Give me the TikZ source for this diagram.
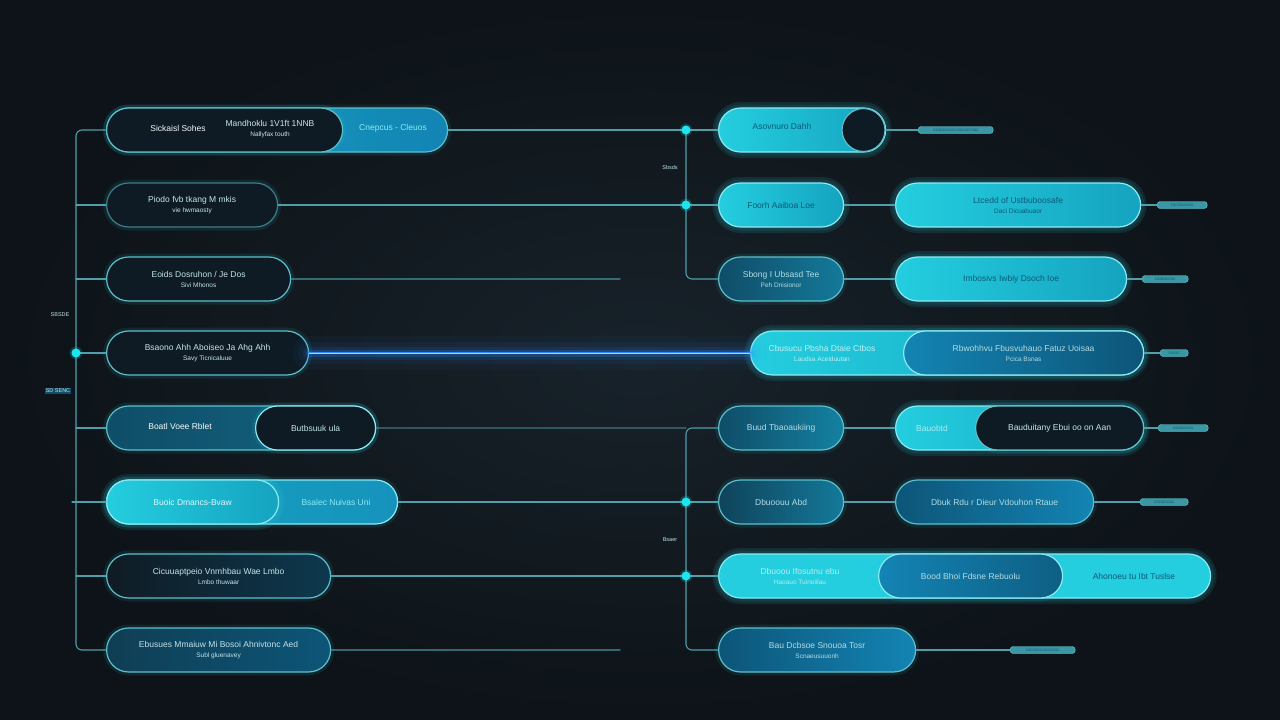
\documentclass[tikz,border=0pt]{standalone}
\usepackage{fontspec}
\setmainfont{Liberation Sans}
\usetikzlibrary{positioning}
\definecolor{bgdark}{HTML}{0D1318}
\definecolor{bgmid}{HTML}{18222A}
\definecolor{wire}{HTML}{4E9FA9}
\definecolor{rim}{HTML}{5CBFCB}
\definecolor{rimlight}{HTML}{8CEBF2}
\definecolor{cyanA}{HTML}{24CEDF}
\definecolor{cyanB}{HTML}{15A3C0}
\definecolor{blueA}{HTML}{1384B4}
\definecolor{blueB}{HTML}{0D5578}
\definecolor{tealA}{HTML}{0F4D68}
\definecolor{tealB}{HTML}{14799A}
\definecolor{navy}{HTML}{0F1B24}
\definecolor{inkL}{HTML}{B3DCE3}
\definecolor{inkD}{HTML}{0C5A78}
\definecolor{beam}{HTML}{2E8CFF}
\definecolor{dotc}{HTML}{1EE4EE}
\definecolor{tagc}{HTML}{3A98A4}
\newcommand\subl[1]{{\fontsize{6.5}{7.5}\selectfont #1}}
\begin{document}
\begin{tikzpicture}[x=1pt, y=-1pt, line join=round, line cap=round,
	font=\fontsize{8.5}{10}\selectfont,
	pill/.style={draw=rim, line width=1.2pt, rounded corners=22pt, minimum height=44pt,
		anchor=west, inner sep=0pt, align=center, text=inkL,
		preaction={draw=cyanA, line width=7pt, draw opacity=.10}},
	darkpill/.style={pill, fill=navy},
	cyanpill/.style={pill, draw=rimlight, left color=cyanA, right color=cyanB, text=inkD,
		preaction={draw=cyanA, line width=12pt, draw opacity=.12}},
	bluepill/.style={pill, left color=blueB, right color=blueA},
	tealpill/.style={pill, left color=tealA, right color=tealB},
	txt/.style={inner sep=0pt, align=center, text=inkL},
	link/.style={draw=wire, line width=1.1pt},
	dot/.style={circle, fill=dotc, inner sep=0pt, minimum size=9pt,
		preaction={fill=dotc, fill opacity=.25, draw=dotc, draw opacity=.2, line width=4pt}},
	tag/.style={draw=rimlight!70!tagc, fill=tagc, rounded corners=3pt, minimum height=7pt,
		inner sep=0pt, anchor=west, font=\fontsize{4.5}{5}\selectfont, text=inkD},
	tiny/.style={inner sep=1pt, font=\fontsize{5.5}{6}\selectfont, text=inkL!80}]
	% background
	\shade[inner color=bgmid, outer color=bgdark] (0,0) rectangle (1280,720);
	\useasboundingbox (0,0) rectangle (1280,720);

	% ---------- left column ----------
	\node[pill, left color=cyanB, right color=blueA, minimum width=341pt] (l1) at (106,130) {};
	\node[darkpill, minimum width=236pt] (l1a) at (106,130) {};
	\node[txt, text=white!90!inkL] (l1t) at (178,128) {Sickaisl Sohes};
	\node[txt, text=inkL!70] (l1s) at (270,129) {Mandhoklu 1V1ft 1NNB\\\subl{Nallyfax touth}};
	\node[txt, text=rimlight] (l1r) at (393,128) {Cnepcus - Cleuos};

	\node[darkpill, draw=rim!60!navy, minimum width=171pt, text=inkL!75] (l2) at (106,205)
		{Piodo fvb tkang M mkis\\\subl{vie hwmaosty}};
	\node[darkpill, minimum width=184pt, text=inkL!80] (l3) at (106,279)
		{Eoids Dosruhon / Je Dos\\\subl{Sivi Mhonos}};
	\node[darkpill, minimum width=202pt, text=inkL!75] (l4) at (106,353)
		{Bsaono Ahh Aboiseo Ja Ahg Ahh\\\subl{Savy Ticnicaluue}};

	\node[pill, left color=tealA, right color=tealB!80!navy, minimum width=269pt] (l5) at (106,428) {};
	\node[txt, text=white!90!inkL] (l5t) at (180,426) {Boatl Voee Rblet};
	\node[darkpill, draw=rimlight, minimum width=120pt, text=inkL!80] (l5a) at (255,428) {Butbsuuk ula};

	\node[pill, draw=rimlight, left color=cyanB, right color=blueA!80!cyanA, minimum width=291pt] (l6) at (106,502) {};
	\node[cyanpill, minimum width=172pt, text=white!85!cyanA] (l6a) at (106,502) {Buoic Dmancs-Bvaw};
	\node[txt, text=rimlight] (l6t) at (336,502) {Bsalec Nuivas Uni};

	\node[pill, left color=navy, right color=blueB!50!navy, minimum width=224pt, text=inkL!75] (l7) at (106,576)
		{Cicuuaptpeio Vnmhbau Wae Lmbo\\\subl{Lmbo thuwaar}};
	\node[pill, left color=tealA!70!navy, right color=blueB, minimum width=224pt, text=inkL!80] (l8) at (106,650)
		{Ebusues Mmaiuw Mi Bosoi Ahnivtonc Aed\\\subl{Subl gluenavey}};

	% left trunk
	\path (76,353) coordinate (lj4) (76,502) coordinate (lj6);
	\draw[link, rounded corners=6pt] (l1.west) -| (76,650) -- (l8.west);
	\foreach \n/\y in {l2/205, l3/279, l4/353, l5/428, l6/502, l7/576}
		\draw[link] (76,\y) -- (\n.west);
	\node[dot] (d4) at (lj4) {};
	\draw[link] ([xshift=-4pt]lj6) -- ([xshift=4pt]lj6);
	\node[tiny] (lab1) at (60,315) {SBSDE};
	\node[tiny, fill=tealA] (lab2) at (58,391) {SD SENC};

	% ---------- right column ----------
	\node[cyanpill, minimum width=167pt] (r1) at (718,130) {};
	\node[txt, text=inkD] (r1t) at (782,126) {Asovnuro Dahh};
	\node[circle, draw=rim, line width=1.2pt, fill=navy, minimum size=43pt, inner sep=0pt] (r1c) at (863.5,130) {};

	\node[cyanpill, minimum width=125pt] (r2) at (718,205) {Foorh Aaiboa Loe};
	\node[cyanpill, minimum width=245pt, text=inkD] (r2b) at (895,205) {Ltcedd of Ustbuboosafe\\\subl{Daci Dicuabuaor}};

	\node[tealpill, minimum width=125pt] (r3) at (718,279) {Sbong I Ubsasd Tee\\\subl{Peh Dnisionor}};
	\node[cyanpill, minimum width=231pt] (r3b) at (895,279) {Imbosivs Iwbiy Dsoch Ioe};

	\node[cyanpill, minimum width=393pt] (r4) at (750,353) {};
	\node[txt, text=white!70!cyanA] (r4t) at (822,353) {Cbusucu Pbsha Dtaie Ctbos\\\subl{Laudsa Aceiduutan}};
	\node[bluepill, draw=rimlight, minimum width=240pt, left color=blueA, right color=blueB] (r4a) at (903,353)
		{Rbwohhvu Fbusvuhauo Fatuz Uoisaa\\\subl{Pcica Bsnas}};

	\node[tealpill, minimum width=125pt, right color=tealB!80!cyanB] (r5) at (718,428) {Buud Tbaoaukiing};
	\node[cyanpill, minimum width=248pt] (r5b) at (895,428) {};
	\node[txt, text=white!60!cyanA] (r5t) at (932,428) {Bauobtd};
	\node[darkpill, minimum width=168pt, text=inkL!75] (r5a) at (975,428) {Bauduitany Ebui oo on Aan};

	\node[tealpill, minimum width=125pt, left color=tealA!80!navy] (r6) at (718,502) {Dbuoouu Abd};
	\node[bluepill, minimum width=198pt] (r6b) at (895,502) {Dbuk Rdu r Dieur Vdouhon Rtaue};

	\node[cyanpill, minimum width=492pt, right color=cyanA] (r7) at (718,576) {};
	\node[txt, text=white!65!cyanA] (r7t) at (800,576) {Dbuoou Ifosutnu ebu\\\subl{Haoauo Tuinoiilau}};
	\node[bluepill, draw=rimlight, minimum width=184pt, left color=blueA, right color=blueB!80!blueA] (r7a) at (878,576)
		{Bood Bhoi Fdsne Rebuolu};
	\node[txt, text=inkD] (r7r) at (1134,576) {Ahonoeu tu Ibt Tuslse};

	\node[bluepill, minimum width=197pt] (r8) at (718,650) {Bau Dcbsoe Snouoa Tosr\\\subl{Scnaeusuuonh}};

	% tags
	\node[tag, minimum width=75pt] (t1) at (918,130) {csacscscsccsacsccsac};
	\node[tag, minimum width=50pt] (t2) at (1157,205) {cscsscsccs};
	\node[tag, minimum width=46pt] (t3) at (1142,279) {csacsccsc};
	\node[tag, minimum width=28pt] (t4) at (1160,353) {cscsc};
	\node[tag, minimum width=50pt] (t5) at (1158,428) {csascsccs};
	\node[tag, minimum width=48pt] (t6) at (1140,502) {cscscscsc};
	\node[tag, minimum width=65pt] (t8) at (1010,650) {csccscscscsccsc};

	% right trunks
	\path (686,130) coordinate (rj1) (686,205) coordinate (rj2)
		(686,502) coordinate (rj6) (686,576) coordinate (rj7);
	\draw[link, rounded corners=6pt] (rj1) -- (686,279) -- (r3.west);
	\draw[link, rounded corners=6pt] (r5.west) -| (686,650) -- (r8.west);
	\foreach \a/\b in {rj1/r1, rj2/r2, rj6/r6, rj7/r7}
		\draw[link] (\a) -- (\b.west);
	\foreach \a/\b in {r2/r2b, r3/r3b, r5/r5b, r6/r6b}
		\draw[link] (\a.east) -- (\b.west);
	\foreach \a/\b in {r1/t1, r2b/t2, r3b/t3, r4/t4, r5b/t5, r6b/t6, r8/t8}
		\draw[link] (\a.east) -- (\b.west);
	\node[tiny] (lab3) at (670,168) {Sbsds};
	\node[tiny] (lab4) at (670,540) {Bsaer};

	% left to right links
	\coordinate (l3end) at (620,279);
	\coordinate (l8end) at (620,650);
	\draw[link] (l1.east) -- (rj1);
	\draw[link] (l2.east) -- (rj2);
	\draw[link, draw opacity=.6] (l3.east) -- (l3end);
	\draw[link, draw opacity=.45] (l5.east) -- (686,428);
	\draw[link] (l6.east) -- (rj6);
	\draw[link] (l7.east) -- (rj7);
	\draw[link, draw opacity=.6] (l8.east) -- (l8end);
	% glowing beam
	\foreach \w/\o in {34/.04, 22/.06, 13/.10, 7/.22}
		\draw[beam, line width=\w pt, draw opacity=\o] (l4.east) -- (r4.west);
	\draw[beam, line width=2.8pt] (l4.east) -- (r4.west);
	\draw[white!60!beam, line width=.8pt] (l4.east) -- (r4.west);

	\foreach \d in {rj1, rj2, rj6, rj7} \node[dot] at (\d) {};
\end{tikzpicture}
\end{document}
